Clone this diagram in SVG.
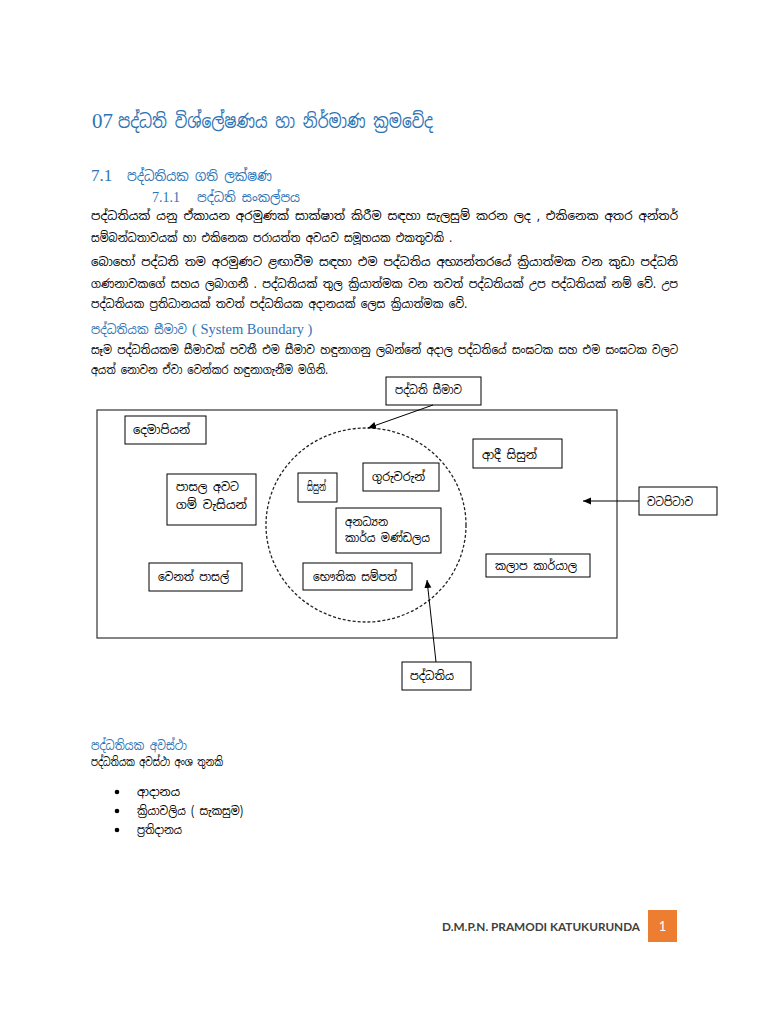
<svg xmlns="http://www.w3.org/2000/svg" width="768" height="1024" viewBox="0 0 768 1024">
<style>
.si{font-family:"Noto Sans Sinhala","Iskoola Pota","Noto Sans","DejaVu Sans",sans-serif;}
.body{font-size:12px;fill:#000;}
.hd{fill:#2E74B5;}
.box{fill:#fff;stroke:#000;stroke-width:1;}
.lbl{font-size:12px;fill:#000;}
.conn{stroke:#000;stroke-width:1;fill:none;}
</style>
<defs>
<marker id="ah" markerUnits="userSpaceOnUse" markerWidth="9" markerHeight="8" refX="8" refY="4" orient="auto">
<path d="M0,0.5 L8,4 L0,7.5 Z" fill="#000"/>
</marker>
</defs>
<rect width="768" height="1024" fill="#fff"/>

<!-- Headings -->
<text class="hd" x="92" y="128" font-size="21" font-family="Liberation Serif,serif">07</text>
<text class="si hd" x="118" y="128" font-size="19" textLength="315" lengthAdjust="spacingAndGlyphs">පද්ධති විශ්ලේෂණය හා නිර්මාණ ක්‍රමවේද</text>
<text class="hd" x="91" y="181" font-size="17" font-family="Liberation Serif,serif">7.1</text>
<text class="si hd" x="127" y="181" font-size="14" textLength="145" lengthAdjust="spacingAndGlyphs">පද්ධතියක ගති ලක්ෂණ</text>
<text class="hd" x="152" y="202" font-size="14" font-family="Liberation Serif,serif">7.1.1</text>
<text class="si hd" x="197" y="202" font-size="13" textLength="103" lengthAdjust="spacingAndGlyphs">පද්ධති සංකල්පය</text>

<!-- Para 1 -->
<text class="si body" x="91" y="220" textLength="587" lengthAdjust="spacingAndGlyphs">පද්ධතියක් යනු ඒකායන අරමුණක් සාක්ෂාත් කිරීම සඳහා සැලසුම් කරන ලද , එකිනෙක අතර අන්තර්</text>
<text class="si body" x="91" y="242" textLength="361" lengthAdjust="spacingAndGlyphs">සම්බන්ධතාවයක් හා එකිනෙක පරායත්ත අවයව සමූහයක එකතුවකි .</text>

<!-- Para 2 -->
<text class="si body" x="91" y="266" textLength="587" lengthAdjust="spacingAndGlyphs">බොහෝ පද්ධති තම අරමුණට ළඟාවීම සඳහා එම පද්ධතිය අභ්‍යන්තරයේ ක්‍රියාත්මක වන කුඩා පද්ධති</text>
<text class="si body" x="91" y="288" textLength="587" lengthAdjust="spacingAndGlyphs">ගණනාවකගේ සහය ලබාගනී . පද්ධතියක් තුල ක්‍රියාත්මක වන තවත් පද්ධතියක් උප පද්ධතියක් නම් වේ. උප</text>
<text class="si body" x="91" y="308" textLength="376" lengthAdjust="spacingAndGlyphs">පද්ධතියක ප්‍රතිධානයක් තවත් පද්ධතියක අදානයක් ලෙස ක්‍රියාත්මක වේ.</text>

<!-- System boundary -->
<text class="si hd" x="91" y="334" font-size="12.5" textLength="96" lengthAdjust="spacingAndGlyphs">පද්ධතියක සීමාව</text>
<text class="hd" x="192" y="334" font-size="14.5" font-family="Liberation Serif,serif">( System Boundary )</text>
<text class="si body" x="91" y="354" textLength="587" lengthAdjust="spacingAndGlyphs">සෑම පද්ධතියකම සීමාවක් පවතී එම සීමාව හඳුනාගනු ලබන්නේ අදාල පද්ධතියේ සංඝටක සහ එම සංඝටක වලට</text>
<text class="si body" x="91" y="374" textLength="237" lengthAdjust="spacingAndGlyphs">අයත් නොවන ඒවා වෙන්කර හඳුනාගැනීම මගිනි.</text>

<!-- Diagram -->
<g id="environment-frame">
<rect x="97" y="410" width="520" height="228" fill="none" stroke="#333" stroke-width="1.2"/>
</g>
<g id="system-circle">
<ellipse cx="366" cy="525" rx="100" ry="97" fill="none" stroke="#222" stroke-width="1.3" stroke-dasharray="3,2"/>
</g>

<g id="n-boundary"><rect class="box" x="386" y="377" width="95" height="28"/><text class="si lbl" x="395" y="394" textLength="67" lengthAdjust="spacingAndGlyphs">පද්ධති සීමාව</text></g>
<g id="n-parents"><rect class="box" x="125" y="416" width="81" height="28"/><text class="si lbl" x="133" y="434" textLength="57" lengthAdjust="spacingAndGlyphs">දෙමාපියන්</text></g>
<g id="n-alumni"><rect class="box" x="473" y="439" width="89" height="29"/><text class="si lbl" x="482" y="459" textLength="55" lengthAdjust="spacingAndGlyphs">ආදී සිසුන්</text></g>
<g id="n-villagers"><rect class="box" x="167" y="474" width="89" height="51"/><text class="si lbl" x="176" y="491" textLength="63" lengthAdjust="spacingAndGlyphs">පාසල අවට</text><text class="si lbl" x="176" y="509" textLength="71" lengthAdjust="spacingAndGlyphs">ගම් වැසියන්</text></g>
<g id="n-students"><rect class="box" x="298" y="473" width="39" height="29"/><text class="si lbl" x="307" y="491" textLength="19" lengthAdjust="spacingAndGlyphs">සිසුන්</text></g>
<g id="n-teachers"><rect class="box" x="363" y="463" width="76" height="28"/><text class="si lbl" x="372" y="481" textLength="53" lengthAdjust="spacingAndGlyphs">ගුරුවරුන්</text></g>
<g id="n-environment"><rect class="box" x="639" y="487" width="78" height="28"/><text class="si lbl" x="647" y="506" textLength="46" lengthAdjust="spacingAndGlyphs">වටපිටාව</text></g>
<g id="n-staff"><rect class="box" x="336" y="508" width="105" height="45"/><text class="si lbl" x="345" y="526" textLength="43" lengthAdjust="spacingAndGlyphs">අනධ්‍යන</text><text class="si lbl" x="345" y="542" textLength="85" lengthAdjust="spacingAndGlyphs">කාර්ය මණ්ඩලය</text></g>
<g id="n-other-schools"><rect class="box" x="149" y="563" width="93" height="28"/><text class="si lbl" x="158" y="581" textLength="71" lengthAdjust="spacingAndGlyphs">වෙනත් පාසල්</text></g>
<g id="n-resources"><rect class="box" x="303" y="563" width="109" height="27"/><text class="si lbl" x="313" y="581" textLength="84" lengthAdjust="spacingAndGlyphs">භෞතික සම්පත්</text></g>
<g id="n-zonal-office"><rect class="box" x="486" y="554" width="104" height="23"/><text class="si lbl" x="495" y="570" textLength="82" lengthAdjust="spacingAndGlyphs">කලාප කාර්යාල</text></g>
<g id="n-system"><rect class="box" x="402" y="662" width="69" height="28"/><text class="si lbl" x="410" y="680" textLength="44" lengthAdjust="spacingAndGlyphs">පද්ධතිය</text></g>

<g id="connectors">
<line class="conn" x1="433" y1="405" x2="368" y2="428" marker-end="url(#ah)"/>
<line class="conn" x1="639" y1="501" x2="583" y2="501" marker-end="url(#ah)"/>
<line class="conn" x1="436" y1="662" x2="427" y2="580" marker-end="url(#ah)"/>
</g>

<!-- Stages -->
<text class="si hd" x="91" y="750" font-size="13" textLength="96" lengthAdjust="spacingAndGlyphs">පද්ධතියක අවස්ථා</text>
<text class="si body" x="91" y="766" textLength="132" lengthAdjust="spacingAndGlyphs">පද්ධතියක අවස්ථා අංශ තුනකි</text>
<circle cx="117" cy="792" r="2.3" fill="#000"/>
<circle cx="117" cy="811" r="2.3" fill="#000"/>
<circle cx="117" cy="830" r="2.3" fill="#000"/>
<text class="si body" x="137" y="796" textLength="43" lengthAdjust="spacingAndGlyphs">ආදානය</text>
<text class="si body" x="137" y="815" textLength="106" lengthAdjust="spacingAndGlyphs">ක්‍රියාවලිය ( සැකසුම)</text>
<text class="si body" x="137" y="834" textLength="45" lengthAdjust="spacingAndGlyphs">ප්‍රතිදානය</text>

<!-- Footer -->
<text x="442" y="931" font-family="Lato,'Open Sans',sans-serif" font-weight="bold" font-size="12" fill="#404040" textLength="198" lengthAdjust="spacingAndGlyphs">D.M.P.N. PRAMODI KATUKURUNDA</text>
<rect x="648" y="910" width="29" height="32" fill="#ED7D31"/>
<text x="662.5" y="931" font-family="Lato,'Open Sans',sans-serif" font-size="13" fill="#fff" text-anchor="middle">1</text>
</svg>
